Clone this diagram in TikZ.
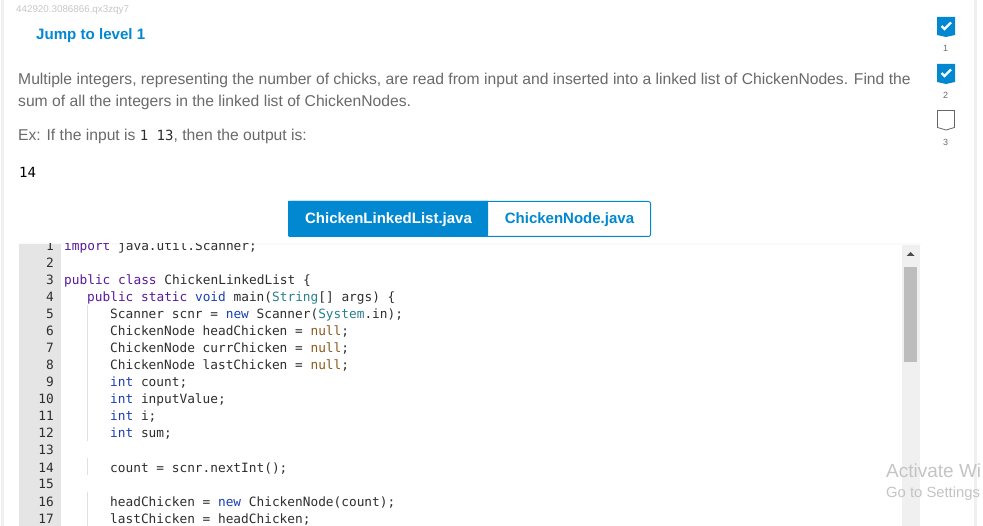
\documentclass[tikz,border=0pt]{standalone}
\usepackage{fontspec}
\setmainfont{Liberation Sans}
\setmonofont{DejaVu Sans Mono}
\definecolor{zyblue}{HTML}{0288D1}
\definecolor{zytext}{HTML}{6A6A6A}
\definecolor{codetext}{HTML}{2E2E2E}
\definecolor{codekey}{HTML}{5A189A}
\definecolor{codetype}{HTML}{1A3FB5}
\definecolor{codenull}{HTML}{8A5A1E}
\definecolor{codeclass}{HTML}{2A7F8F}
\newcommand{\kwd}[1]{\textcolor{codekey}{#1}}
\newcommand{\typ}[1]{\textcolor{codetype}{#1}}
\newcommand{\nul}[1]{\textcolor{codenull}{#1}}
\newcommand{\cls}[1]{\textcolor{codeclass}{#1}}
\tikzset{
	body/.style={anchor=base west,inner sep=0pt,text=zytext,font=\fontsize{15.67}{16}\selectfont},
	codeline/.style={anchor=base west,inner sep=0pt,text=codetext,font=\ttfamily\fontsize{12.8}{12.8}\selectfont},
	linenum/.style={anchor=base east,inner sep=0pt,text=codetext,font=\ttfamily\fontsize{12.8}{12.8}\selectfont},
	tabtext/.style={anchor=base,inner sep=0pt,font=\bfseries\fontsize{15}{15}\selectfont},
	badgenum/.style={inner sep=0pt,text=zytext,font=\fontsize{9}{9}\selectfont},
	watermark/.style={anchor=base west,inner sep=0pt,text=black!23}
}
\begin{document}
\begin{tikzpicture}[x=1pt,y=-1pt]
	\useasboundingbox (0,0) rectangle (983,526);
	\clip (0,0) rectangle (983,526);
	\fill[white] (0,0) rectangle (983,526);
	\fill[black!6] (1,0) rectangle (4,526);
	\fill[black!6] (974,0) rectangle (977,526);

	\node[anchor=base west,inner sep=0pt,text=black!22,font=\fontsize{9.8}{10}\selectfont] (version) at (16,13) {442920.3086866.qx3zqy7};
	\node[anchor=base west,inner sep=0pt,text=zyblue,font=\bfseries\fontsize{15.1}{16}\selectfont] (jump) at (36,40) {Jump to level 1};
	\node[body] (intro_a) at (18,85) {Multiple integers, representing the number of chicks, are read from input and inserted into a linked list of ChickenNodes. Find the};
	\node[body] (intro_b) at (18,107) {sum of all the integers in the linked list of ChickenNodes.};
	\node[body] (example) at (18,141) {Ex: If the input is {\ttfamily\fontsize{14}{14}\selectfont\textcolor{codetext}{1 13}}, then the output is:};
	\node[anchor=base west,inner sep=0pt,text=black,font=\ttfamily\fontsize{14}{14}\selectfont] (output) at (19,178) {14};

	\foreach \y/\n in {17/1,64/2} {
		\fill[zyblue] (937,\y) -- (955,\y) -- (955,\y+18) -- (946,\y+20) -- (937,\y+18) -- cycle;
		\draw[white,line width=2.2pt] (941.5,\y+9) -- (944.5,\y+12) -- (951,\y+5.5);
	}
	\draw[black!60,line width=0.8pt] (937.5,110.5) -- (954.5,110.5) -- (954.5,127.5) -- (946,130) -- (937.5,127.5) -- cycle;
	\node[badgenum] (badge_1) at (945.5,48) {1};
	\node[badgenum] (badge_2) at (945.5,95) {2};
	\node[badgenum] (badge_3) at (945.5,142) {3};

	\draw[zyblue,line width=1pt,fill=white,rounded corners=2pt] (288.5,201.5) rectangle (650.5,236.5);
	\fill[zyblue,rounded corners=2pt] (288,201) -- (288,237) -- (488,237) [sharp corners] -- (488,201) -- cycle;
	\node[tabtext,text=white] (tab_list) at (388.5,224) {ChickenLinkedList.java};
	\node[tabtext,text=zyblue] (tab_node) at (569.5,224) {ChickenNode.java};

	\fill[black!2] (18,243) rectangle (921,245);
	\fill[black!10] (19,244) rectangle (61,526);
	\foreach \a/\b in {305/441,458/475,492/526} {
		\draw[black!12] (87,\a) -- (87,\b);
	}
	\begin{scope}
		\clip (0,244) rectangle (902,526);
		\foreach \n in {1,...,17} {
			\node[linenum] (num_\n) at (54,{234+17*\n}) {\n};
		}
		\foreach \n/\x/\codetext in {
			1/64/{\kwd{import} java.util.Scanner;},
			3/64/{\kwd{public} \kwd{class} ChickenLinkedList \{},
			4/87/{\kwd{public} \kwd{static} \typ{void} main(\cls{String}[] args) \{},
			5/110/{Scanner scnr = \typ{new} Scanner(\cls{System}.in);},
			6/110/{ChickenNode headChicken = \nul{null};},
			7/110/{ChickenNode currChicken = \nul{null};},
			8/110/{ChickenNode lastChicken = \nul{null};},
			9/110/{\typ{int} count;},
			10/110/{\typ{int} inputValue;},
			11/110/{\typ{int} i;},
			12/110/{\typ{int} sum;},
			14/110/{count = scnr.nextInt();},
			16/110/{headChicken = \typ{new} ChickenNode(count);},
			17/110/{lastChicken = headChicken;}
		} {
			\node[codeline] (line_\n) at (\x,{234+17*\n}) {\codetext};
		}
	\end{scope}

	\fill[black!6] (902,245) rectangle (920,526);
	\fill[black!26] (904,267) rectangle (917,362);
	\fill[black!70] (906.5,256) -- (910.5,252) -- (914.5,256) -- cycle;

	\node[watermark,font=\fontsize{19}{20}\selectfont] (activate) at (886,478) {Activate Wi};
	\node[watermark,font=\fontsize{14.8}{15}\selectfont] (settings) at (886,497) {Go to Settings};
\end{tikzpicture}
\end{document}
